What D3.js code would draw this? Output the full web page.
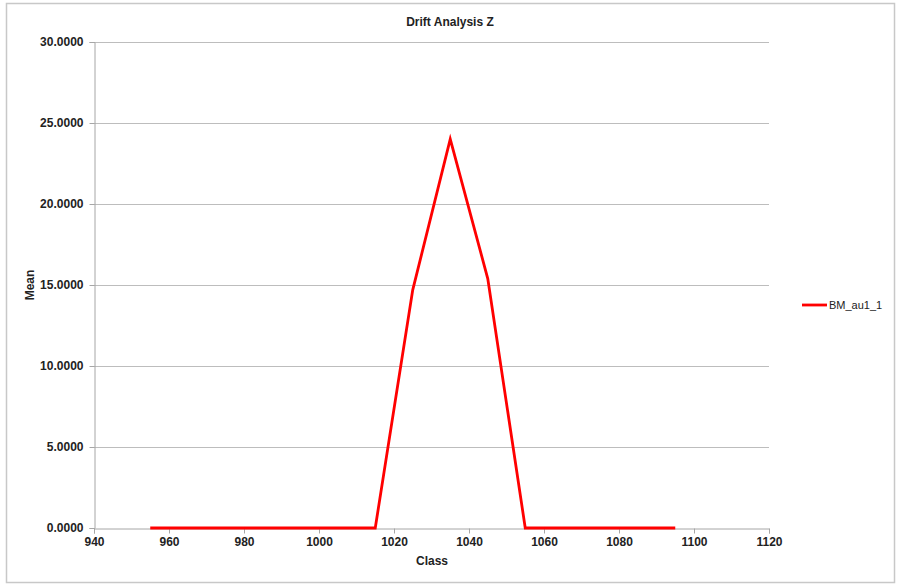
<!DOCTYPE html>
<html><head><meta charset="utf-8">
<script src="https://cdn.jsdelivr.net/npm/d3@7"></script>
<style>body{margin:0;background:#fff;font-family:"Liberation Sans",Arial,sans-serif}</style>
</head><body><svg id="c" width="900" height="586"></svg>
<script>
const classes = [955,965,975,985,995,1005,1015,1025,1035,1045,1055,1065,1075,1085,1095];
const means   = [0,0,0,0,0,0,0,14.7,24.0,15.4,0,0,0,0,0];
const xTicks = [940,960,980,1000,1020,1040,1060,1080,1100,1120];
const yTicks = [0,5,10,15,20,25,30];
const seriesName = "BM_au1_1";

const svg = d3.select("#c");
const m = {l:94, r:769, t:42, b:528};
svg.append("rect").attr("x",6.5).attr("y",3.5).attr("width",888).attr("height",579)
  .attr("fill","#fff").attr("stroke","#c8c8c8").attr("stroke-width",1.5);

const x = d3.scaleLinear().domain([940,1120]).range([m.l,m.r]);
const y = d3.scaleLinear().domain([0,30]).range([m.b,m.t]);

// gridlines
svg.append("g").selectAll("line").data(yTicks.filter(d=>d>0)).join("line")
  .attr("x1",m.l).attr("x2",m.r).attr("y1",d=>y(d)+0.5).attr("y2",d=>y(d)+0.5)
  .attr("stroke","#bdbdbd").attr("stroke-width",1);

const yAxis = svg.append("g").attr("transform",`translate(${m.l+0.5},0)`)
  .call(d3.axisLeft(y).tickValues(yTicks).tickFormat(d3.format(".4f")).tickSize(5).tickPadding(6));
const xAxis = svg.append("g").attr("transform",`translate(0,${m.b+0.5})`)
  .call(d3.axisBottom(x).tickValues(xTicks).tickFormat(d3.format("d")).tickSize(5).tickPadding(4));
[yAxis,xAxis].forEach(a=>{
  a.selectAll("path,line").attr("stroke","#a6a6a6");
  a.selectAll("text").attr("font-family","Liberation Sans, Arial, sans-serif")
   .attr("font-size",12).attr("font-weight","bold").attr("fill","#222");
});

const line = d3.line().x((d,i)=>x(classes[i])).y(d=>y(d));
svg.append("path").datum(means).attr("d",line).attr("fill","none")
  .attr("stroke","#ff0000").attr("stroke-width",2.8).attr("stroke-linejoin","miter");

svg.append("text").attr("x",450).attr("y",26).attr("text-anchor","middle")
  .attr("font-size",12).attr("font-weight","bold").attr("fill","#222").text("Drift Analysis Z");
svg.append("text").attr("x",432).attr("y",565).attr("text-anchor","middle")
  .attr("font-size",12).attr("font-weight","bold").attr("fill","#222").text("Class");
svg.append("text").attr("transform","translate(34,285) rotate(-90)").attr("text-anchor","middle")
  .attr("font-size",12).attr("font-weight","bold").attr("fill","#222").text("Mean");

const lg = svg.append("g");
lg.append("line").attr("x1",802).attr("x2",827).attr("y1",305).attr("y2",305)
  .attr("stroke","#ff0000").attr("stroke-width",2.8);
lg.append("text").attr("x",829).attr("y",309).attr("font-size",11).attr("fill","#222")
  .attr("font-family","Liberation Sans, Arial, sans-serif").text(seriesName);
</script></body></html>
